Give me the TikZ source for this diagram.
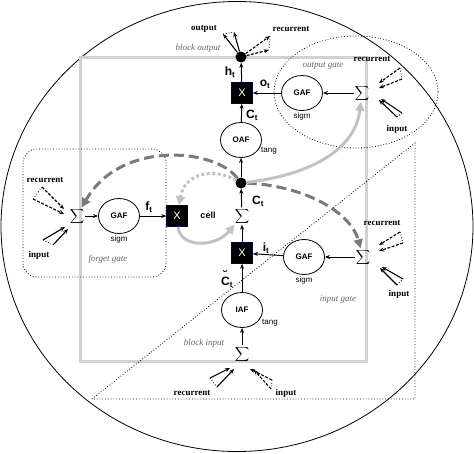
\documentclass[tikz,border=0pt]{standalone}
\usepackage{fontspec}
\setmainfont{Liberation Serif}
\setsansfont{Liberation Sans}
\usetikzlibrary{arrows.meta,shapes.geometric}
\definecolor{lgrey}{gray}{0.76}
\definecolor{dgrey}{gray}{0.48}
\definecolor{sqgrey}{gray}{0.82}
\newcommand{\feedin}[5]{\draw[#1] #2 -- #3; \draw[#1] #4 -- #5; \draw[dotted, line width=0.8pt] #2 -- #4;}
\newcommand{\feedout}[5]{\draw[#1] #2 -- #3; \draw[#1] #4 -- #5; \draw[dotted, line width=0.8pt] #3 -- #5;}
\newcommand{\brC}{\leavevmode\hbox{\rlap{\hbox to 0.72em{\hss\raisebox{0.5em}{\char"02D8}\hss}}C}}
\begin{document}
\begin{tikzpicture}[x=1pt,y=-1pt,
  arr/.style={-{Stealth[length=5pt,width=4pt]}, line width=1pt},
  farr/.style={-{Stealth[length=5pt,width=4pt]}, line width=1.1pt},
  fdash/.style={farr, dash pattern=on 3pt off 1.5pt},
  sumn/.style={inner sep=0.5pt, font=\fontsize{12}{12}\selectfont},
  actf/.style={ellipse, draw, fill=white, line width=0.8pt, minimum width=41pt, minimum height=35pt, inner sep=0pt, font=\sffamily\bfseries\fontsize{8}{8}\selectfont},
  mult/.style={rectangle, fill=black, draw=black!75!blue, line width=0.6pt, minimum size=21pt, inner sep=0pt, text=white, font=\sffamily\fontsize{11}{11}\selectfont},
  junc/.style={circle, fill=black, minimum size=11pt, inner sep=0pt},
  blbl/.style={font=\bfseries\fontsize{9}{9}\selectfont, inner sep=0pt},
  ilbl/.style={font=\itshape\fontsize{9}{9}\selectfont, text=black!60, inner sep=0pt},
  slbl/.style={font=\sffamily\fontsize{8}{8}\selectfont, inner sep=0pt},
  vlbl/.style={font=\sffamily\bfseries\fontsize{12}{12}\selectfont, inner sep=0pt},
  dcurve/.style={dgrey, line width=3pt, dash pattern=on 10pt off 5pt, -{Triangle[length=9pt,width=9pt]}},
  lcurve/.style={lgrey, line width=3pt, -{Triangle[length=9pt,width=9pt]}},
]
\useasboundingbox (0,0) rectangle (474,453);
\draw[line width=0.8pt] (237,226.5) ellipse [x radius=236pt, y radius=225pt];
\draw[sqgrey, line width=3pt] (80,57) rectangle (366,361);
\draw[dotted, line width=0.8pt, rounded corners=14pt] (23,149) rectangle (166,277);
\draw[dotted, line width=0.8pt] (356,92) ellipse [x radius=82pt, y radius=56pt];
\draw[dotted, line width=0.8pt] (92,399) -- (415,143) -- (415,399) -- cycle;

% nodes
\node[junc] (dotT) at (241,57) {};
\node[mult] (Xo) at (242,93) {X};
\node[actf] (OAF) at (241,140) {OAF};
\node[junc] (dotM) at (241,183) {};
\node[sumn] (Sc) at (242,216) {$\displaystyle\sum$};
\node[mult] (Xf) at (177,216) {X};
\node[mult] (Xi) at (242,253) {X};
\node[actf] (IAF) at (242,310) {IAF};
\node[sumn] (Sb) at (242,354) {$\displaystyle\sum$};
\node[sumn] (Sf) at (77,216) {$\displaystyle\sum$};
\node[actf] (GAFf) at (119,216) {GAF};
\node[actf] (GAFo) at (302,93) {GAF};
\node[sumn] (So) at (362,93) {$\displaystyle\sum$};
\node[actf] (GAFi) at (304,257) {GAF};
\node[sumn] (Si) at (363,257) {$\displaystyle\sum$};

% connectors
\draw[arr] (Sf) -- (GAFf);
\draw[arr] (GAFf) -- (Xf);
\draw[arr] (So) -- (GAFo);
\draw[arr] (GAFo) -- (Xo);
\draw[arr] (Si) -- (GAFi);
\draw[arr] (GAFi) -- (Xi);
\draw[arr] (Sb) -- (IAF);
\draw[arr] (IAF) -- (Xi);
\draw[arr] (Xi) -- (Sc);
\draw[arr] (Sc) -- (dotM);
\draw[arr] (dotM) -- (OAF);
\draw[arr] (OAF) -- (Xo);
\draw[arr] (Xo) -- (dotT);

% curved feedback
\draw[dcurve] (dotM) .. controls (215,148) and (120,140) .. (Sf);
\draw[dcurve] (dotM) .. controls (300,185) and (350,210) .. (Si);
\draw[lcurve] (dotM) .. controls (310,175) and (355,150) .. (So);
\draw[lcurve, dash pattern=on 3pt off 2.5pt] (dotM) .. controls (215,168) and (185,172) .. (Xf);
\draw[lcurve] (Xf) .. controls (180,248) and (215,248) .. (Sc);

% feeds
\feedin{fdash}{(42,187)}{(64,209)}{(33,199)}{(64,214)}
\feedin{farr}{(43,240)}{(65,227)}{(53,245)}{(68,229)}
\feedin{fdash}{(400,68)}{(379,83)}{(402,79)}{(379,88)}
\feedin{farr}{(397,117)}{(379,100)}{(402,113)}{(381,99)}
\feedin{fdash}{(400,232)}{(379,245)}{(403,243)}{(379,251)}
\feedin{farr}{(397,285)}{(380,268)}{(403,279)}{(382,267)}
\feedin{farr}{(210,378)}{(230,368)}{(217,387)}{(234,369)}
\feedin{fdash}{(272,380)}{(250,369)}{(271,389)}{(254,370)}
\feedout{farr}{(dotT)}{(223,34)}{(dotT)}{(234,32)}
\feedout{fdash}{(dotT)}{(270,36)}{(dotT)}{(269,50)}

% labels
\node[blbl] (tOut) at (204,29) {output};
\node[blbl] (tRecT) at (291,29) {recurrent};
\node[ilbl] (tBO) at (198,48) {block output};
\node[vlbl] (lh) at (230,72) {h\textsubscript{t}};
\node[vlbl] (lo) at (265,84) {o\textsubscript{t}};
\node[vlbl] (lc1) at (252,115) {C\textsubscript{t}};
\node[slbl] (tt1) at (269,151) {tang};
\node[vlbl] (lc2) at (258,201) {C\textsubscript{t}};
\node[font=\sffamily\bfseries\fontsize{9}{9}\selectfont] (tcell) at (208,215) {cell};
\node[vlbl] (lf) at (149,207) {f\textsubscript{t}};
\node[vlbl] (li) at (266,248) {i\textsubscript{t}};
\node[vlbl] (lct) at (227,279) {\brC\textsubscript{t}};
\node[slbl] (tt2) at (270,323) {tang};
\node[ilbl] (tBI) at (204,343) {block input};
\node[blbl] (tRecB) at (192,393) {recurrent};
\node[blbl] (tInB) at (286,393) {input};
\node[blbl] (tRecF) at (45,180) {recurrent};
\node[blbl] (tInF) at (39,255) {input};
\node[slbl] (tsF) at (119,239) {sigm};
\node[ilbl] (tFG) at (108,259) {forget gate};
\node[ilbl] (tOG) at (323,66) {output gate};
\node[blbl] (tRecO) at (372,59) {recurrent};
\node[blbl] (tInO) at (397,129) {input};
\node[slbl] (tsO) at (302,116) {sigm};
\node[blbl] (tRecI) at (382,223) {recurrent};
\node[blbl] (tInI) at (399,294) {input};
\node[slbl] (tsI) at (304,280) {sigm};
\node[ilbl] (tIG) at (338,299) {input gate};
\end{tikzpicture}
\end{document}
